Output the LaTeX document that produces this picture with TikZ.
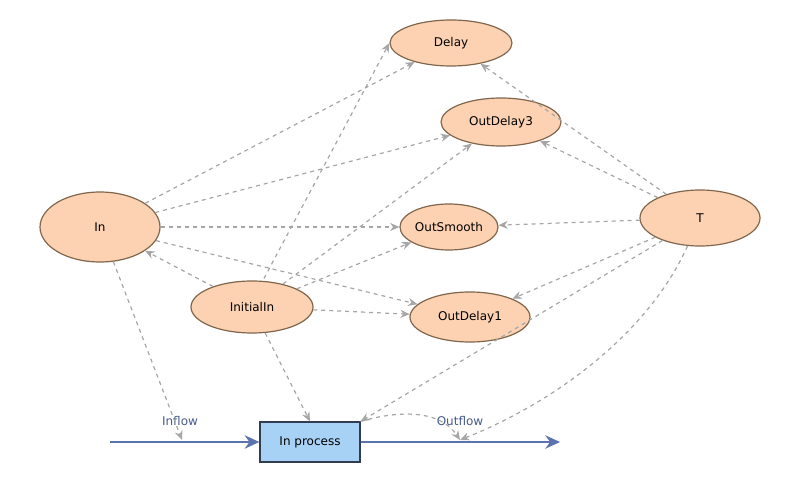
\documentclass[tikz,border=0pt]{standalone}
\usepackage{fontspec}
\setmainfont{DejaVu Sans}
\usetikzlibrary{shapes.geometric,arrows.meta}
\begin{document}
\begin{tikzpicture}[x=0.75pt,y=-0.75pt,
 var/.style={ellipse,draw=brown!50!gray!80!black,fill={rgb,255:red,252;green,210;blue,178},line width=0.9pt,inner sep=0pt,font=\fontsize{9}{10}\selectfont},
 dep/.style={draw=gray!70,dashed,line width=0.9pt,-{Stealth[length=7pt,width=6pt]}},
 flow/.style={draw={rgb,255:red,90;green,115;blue,175},line width=2pt,-{Stealth[length=11pt,width=10pt]}},
 lbl/.style={text={rgb,255:red,70;green,90;blue,140},font=\fontsize{9}{10}\selectfont}]
\useasboundingbox (0,0) rectangle (800,477);
\node[var,minimum width=122*0.75pt,minimum height=46*0.75pt] (delay) at (451,43) {Delay};
\node[var,minimum width=120*0.75pt,minimum height=48*0.75pt] (od3) at (501,122) {OutDelay3};
\node[var,minimum width=98*0.75pt,minimum height=46*0.75pt] (os) at (449,227) {OutSmooth};
\node[var,minimum width=120*0.75pt,minimum height=50*0.75pt] (od1) at (470,317) {OutDelay1};
\node[var,minimum width=120*0.75pt,minimum height=56*0.75pt] (T) at (700,218) {T};
\node[var,minimum width=120*0.75pt,minimum height=70*0.75pt] (in) at (100,227) {In};
\node[var,minimum width=122*0.75pt,minimum height=52*0.75pt] (ii) at (252,307) {InitialIn};
\node[draw={rgb,255:red,50;green,60;blue,80},fill={rgb,255:red,168;green,210;blue,245},line width=0.9pt,minimum width=100*0.75pt,minimum height=40*0.75pt,font=\fontsize{9}{10}\selectfont] (proc) at (310,442) {In process};
\coordinate (src) at (110,442);
\coordinate (snk) at (560,442);
\coordinate (iv) at (182,440);
\coordinate (ov) at (460,440);
\draw[flow] (src) -- (proc);
\draw[flow] (proc) -- (snk);
\node[lbl] (inflow) at (180,421) {Inflow};
\node[lbl] (outflow) at (460,421) {Outflow};
\draw[dep] (in) -- (delay);
\draw[dep] (in) -- (od3);
\draw[dep] (in) -- (os);
\draw[dep] (in) -- (od1);
\draw[dep] (in) -- (iv);
\draw[dep] (ii) -- (in);
\draw[dep] (ii.north) ++(12,-2) -- (delay.west);
\draw[dep] (ii) -- (od3);
\draw[dep] (ii) -- (os);
\draw[dep] (ii) -- (od1);
\draw[dep] (ii) -- (proc.north);
\draw[dep] (T) -- (delay);
\draw[dep] (T) -- (od3);
\draw[dep] (T) -- (os);
\draw[dep] (T) -- (od1);
\draw[dep] (T) -- (proc.north east);
\draw[dep] (T) .. controls (650,330) and (560,400) .. (ov);
\draw[dep] (proc.north east) .. controls (400,410) and (440,410) .. (ov);
\end{tikzpicture}
\end{document}
